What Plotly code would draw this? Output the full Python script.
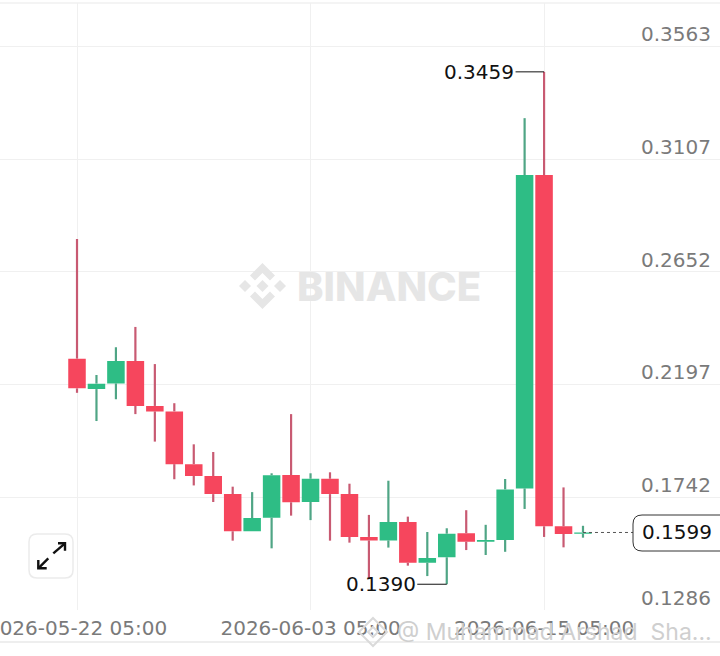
import plotly.graph_objects as go

dates = ["2026-05-22 05:00", "2026-05-23 05:00", "2026-05-24 05:00", "2026-05-25 05:00", "2026-05-26 05:00",
         "2026-05-27 05:00", "2026-05-28 05:00", "2026-05-29 05:00", "2026-05-30 05:00", "2026-05-31 05:00",
         "2026-06-01 05:00", "2026-06-02 05:00", "2026-06-03 05:00", "2026-06-04 05:00", "2026-06-05 05:00",
         "2026-06-06 05:00", "2026-06-07 05:00", "2026-06-08 05:00", "2026-06-09 05:00", "2026-06-10 05:00",
         "2026-06-11 05:00", "2026-06-12 05:00", "2026-06-13 05:00", "2026-06-14 05:00", "2026-06-15 05:00",
         "2026-06-16 05:00", "2026-06-17 05:00"]
opens = [.2301, .2178, .2201, .2291, .2110, .2088, .1875, .1827, .1754, .1604, .1659, .1831, .1722, .1816,
         .1754, .1581, .1567, .1641, .1477, .1499, .1596, .1562, .1569, .1777, .3042, .1624, .1594]
highs = [.2784, .2235, .2347, .2429, .2279, .2121, .1955, .1924, .1784, .1762, .1838, .2077, .1838, .1842,
         .1796, .1670, .1808, .1663, .1601, .1616, .1689, .1630, .1815, .3272, .3459, .1781, .1626]
lows = [.2163, .2049, .2137, .2077, .1966, .1814, .1789, .1722, .1566, .1604, .1535, .1667, .1649, .1566,
        .1558, .1414, .1538, .1465, .1423, .1390, .1528, .1508, .1521, .1694, .1581, .1539, .1578]
closes = [.2181, .2200, .2291, .2110, .2088, .1875, .1827, .1754, .1604, .1657, .1830, .1721, .1816, .1754,
          .1581, .1567, .1641, .1477, .1496, .1594, .1562, .1569, .1773, .3042, .1624, .1593, .1599]

price_ticks = [.1286, .1742, .2197, .2652, .3107, .3563]
price_labels = ["0.1286", "0.1742", "0.2197", "0.2652", "0.3107", "0.3563"]
date_ticks = ["2026-05-22 05:00", "2026-06-03 05:00", "2026-06-15 05:00"]
date_labels = ["2026-05-22 05:00", "2026-06-03 05:00", "2026-06-15 05:00"]

GREEN = "#2EBD85"
RED = "#F6465D"
GREEN_WICK = "#4FA585"
RED_WICK = "#C85A72"
GRID = "#F0F0F0"
LOGO = "#E6E6E6"
FONT = "DejaVu Sans"
MARK_FONT = "Inter"


def px(x):
    return x / 720


def py(y):
    return (610 - y) / 607


def poly(points, close=True):
    path = "M " + " L ".join(f"{px(x):.5f},{py(y):.5f}" for x, y in points)
    return path + (" Z" if close else "")


def deco(path, fill=None, color=None, width=0, layer="above"):
    return dict(type="path", xref="paper", yref="paper", path=path, fillcolor=fill,
                line=dict(color=color, width=width), layer=layer)


def wicks(is_up):
    xs, ys = [], []
    for d, o, h, l, c in zip(dates, opens, highs, lows, closes):
        if (c >= o) != is_up:
            continue
        xs += [d, d, None, d, d, None]
        ys += [h, max(o, c), None, min(o, c), l, None]
    return xs, ys


fig = go.Figure()
fig.add_trace(go.Candlestick(x=dates, open=opens, high=highs, low=lows, close=closes,
                             increasing=dict(fillcolor=GREEN, line=dict(color=GREEN, width=0)),
                             decreasing=dict(fillcolor=RED, line=dict(color=RED, width=0)),
                             whiskerwidth=0, showlegend=False))
for is_up, col in [(True, GREEN_WICK), (False, RED_WICK)]:
    wx, wy = wicks(is_up)
    fig.add_trace(go.Scatter(x=wx, y=wy, mode="lines", line=dict(color=col, width=2.2),
                             hoverinfo="skip", showlegend=False))

shapes = []
# frame lines above and below the chart
shapes.append(deco(poly([(0, 3), (720, 3)], False), color=GRID, width=1.5))
shapes.append(deco(poly([(0, 642), (720, 642)], False), color="#E8E8E8", width=1.5))

# binance logo
cx, cy = 262.5, 286
for dx in (-17.5, 0, 17.5):
    shapes.append(deco(poly([(cx + dx - 6, cy), (cx + dx, cy - 6), (cx + dx + 6, cy), (cx + dx, cy + 6)]), fill=LOGO))
for s in (1, -1):
    shapes.append(deco(poly([(cx, cy - s * 23), (cx + 12.5, cy - s * 10.5), (cx + 7.5, cy - s * 5.5), (cx, cy - s * 13),
                             (cx - 7.5, cy - s * 5.5), (cx - 12.5, cy - s * 10.5)]), fill=LOGO))

# expand button
shapes.append(deco(f"M {px(37)},{py(534)} L {px(65)},{py(534)} Q {px(73)},{py(534)} {px(73)},{py(542)} "
                   f"L {px(73)},{py(570)} Q {px(73)},{py(578)} {px(65)},{py(578)} L {px(37)},{py(578)} "
                   f"Q {px(29)},{py(578)} {px(29)},{py(570)} L {px(29)},{py(542)} Q {px(29)},{py(534)} {px(37)},{py(534)} Z",
                   fill="white", color="#EBEBEB", width=1.5))
for pts in ([(53.3, 553.3), (65, 543.3)], [(58, 543.3), (65, 543.3), (65, 550.7)],
            [(48.3, 558.3), (38.3, 568.3)], [(38.3, 560), (38.3, 568.3), (46.7, 568.3)]):
    shapes.append(deco(poly(pts, False), color="#111111", width=2.4))

# last price tag and its dashed line
shapes.append(dict(type="line", xref="x", yref="y", x0=dates[-1], x1="2026-06-19 18:42", y0=closes[-1], y1=closes[-1],
                   line=dict(color="#555555", width=1, dash="3px,3px")))
shapes.append(deco(f"M {px(725)},{py(515)} L {px(642)},{py(515)} Q {px(633)},{py(515)} {px(633)},{py(524)} "
                   f"L {px(633)},{py(542)} Q {px(633)},{py(551)} {px(642)},{py(551)} L {px(725)},{py(551)}",
                   fill="white", color="#333333", width=1))

# small watermark diamond
shapes.append(deco(poly([(373, 618), (387, 632), (373, 646), (359, 632)]), color="#DADADA", width=2))
shapes.append(deco(poly([(373, 627), (378, 632), (373, 637), (368, 632)]), color="#DADADA", width=2))

annotations = [
    dict(x=dates[24], y=highs[24], text="0.3459", ax=-65, ay=0, axref="pixel", ayref="pixel", showarrow=True,
         arrowhead=0, arrowcolor="#111111", arrowwidth=1, standoff=0, font=dict(family=FONT, size=20, color="#111111")),
    dict(x=dates[19], y=lows[19], text="0.1390", ax=-66, ay=0, axref="pixel", ayref="pixel", showarrow=True,
         arrowhead=0, arrowcolor="#111111", arrowwidth=1, standoff=0, font=dict(family=FONT, size=20, color="#111111")),
    dict(xref="paper", yref="y", x=1, y=closes[-1], xanchor="right", xshift=-6, text="0.1599", showarrow=False,
         font=dict(family=FONT, size=20, color="#111111")),
    dict(xref="paper", yref="paper", x=px(388.5), y=py(286), text="BINANCE", showarrow=False,
         font=dict(family=MARK_FONT, size=40, color=LOGO, weight=800)),
    dict(xref="paper", yref="paper", x=px(714), y=py(632), xanchor="right", yanchor="middle", showarrow=False,
         text="@ Muhammad Arshad  Sha...", font=dict(family=MARK_FONT, size=23, color="#CFCFCF")),
]

fig.update_layout(width=720, height=656, autosize=False, paper_bgcolor="white", plot_bgcolor="white",
                  margin=dict(l=0, r=0, t=3, b=46, autoexpand=False), boxgap=0.1, boxgroupgap=0, boxmode="overlay",
                  showlegend=False, shapes=shapes, annotations=annotations, hovermode=False,
                  xaxis=dict(type="date", range=["2026-05-18 06:02", "2026-06-24 05:58"], rangeslider=dict(visible=False),
                             tickmode="array", tickvals=date_ticks, ticktext=date_labels, showgrid=True,
                             gridcolor=GRID, gridwidth=1, ticks="", showline=False, zeroline=False, automargin=False,
                             ticklabeloverflow="allow", ticklabelstandoff=4,
                             tickfont=dict(family=FONT, size=20, color="#7A7A7A"), fixedrange=True),
                  yaxis=dict(range=[.1286, .3737], side="right", tickmode="array", tickvals=price_ticks,
                             ticktext=price_labels, ticklabelposition="inside", ticklabelshift=-12, ticklabelstandoff=6,
                             gridcolor=GRID, gridwidth=1, ticks="", showline=False, zeroline=False,
                             tickfont=dict(family=FONT, size=20, color="#7A7A7A"), fixedrange=True))

fig.write_html("out.html", config=dict(displayModeBar=False),
               post_script="document.body.style.margin='0';document.documentElement.style.overflow='hidden';")
